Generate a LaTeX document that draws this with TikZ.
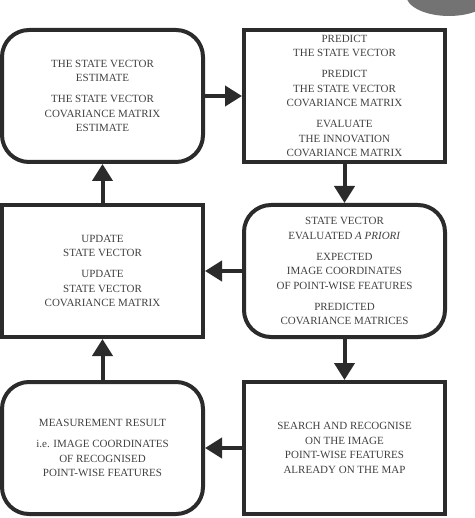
\documentclass[tikz,border=0pt]{standalone}
\usepackage{fontspec}
\setmainfont{Liberation Serif}
\usetikzlibrary{arrows.meta}
\definecolor{ink}{HTML}{2B2B2B}
\definecolor{blob}{HTML}{737373}

\begin{document}
\begin{tikzpicture}[x=1pt,y=-1pt,
        box/.style={draw=ink,line width=4pt,minimum width=201pt,minimum height=132pt,
            inner sep=0pt,align=center,text=ink!90,font=\fontsize{11}{14.5}\selectfont},
        rbox/.style={box,rounded corners=27pt},
        flow/.style={draw=ink,line width=4pt,-{Triangle[length=17pt,width=20pt]}}]
        \useasboundingbox (0,0) rectangle (474,518);
        \fill[blob] (449,-5) ellipse [x radius=43pt, y radius=21pt];

        \node[rbox] (est) at (102.5,96) {THE STATE VECTOR\\ ESTIMATE\\[6.5pt]
            THE STATE VECTOR\\ COVARIANCE MATRIX\\ ESTIMATE};
        \node[box] (pred) at (344.5,96) {PREDICT\\ THE STATE VECTOR\\[6.5pt]
            PREDICT\\ THE STATE VECTOR\\ COVARIANCE MATRIX\\[6.5pt]
            EVALUATE\\ THE INNOVATION\\ COVARIANCE MATRIX};
        \node[rbox] (prior) at (344.5,271) {STATE VECTOR\\ EVALUATED \textit{A PRIORI}\\[6.5pt]
            EXPECTED\\ IMAGE COORDINATES\\ OF POINT-WISE FEATURES\\[6.5pt]
            PREDICTED\\ COVARIANCE MATRICES};
        \node[box] (upd) at (102.5,271) {UPDATE\\ STATE VECTOR\\[6.5pt]
            UPDATE\\ STATE VECTOR\\ COVARIANCE MATRIX};
        \node[box] (search) at (344.5,448) {SEARCH AND RECOGNISE\\ ON THE IMAGE\\
            POINT-WISE FEATURES\\ ALREADY ON THE MAP};
        \node[rbox] (meas) at (102.5,448) {MEASUREMENT RESULT\\[6.5pt]
            i.e. IMAGE COORDINATES\\ OF RECOGNISED\\ POINT-WISE FEATURES};

        \draw[flow] (est) -- (pred);
        \draw[flow] (pred) -- (prior);
        \draw[flow] (prior) -- (upd);
        \draw[flow] (upd) -- (est);
        \draw[flow] (prior) -- (search);
        \draw[flow] (search) -- (meas);
        \draw[flow] (meas) -- (upd);
    \end{tikzpicture}
\end{document}
